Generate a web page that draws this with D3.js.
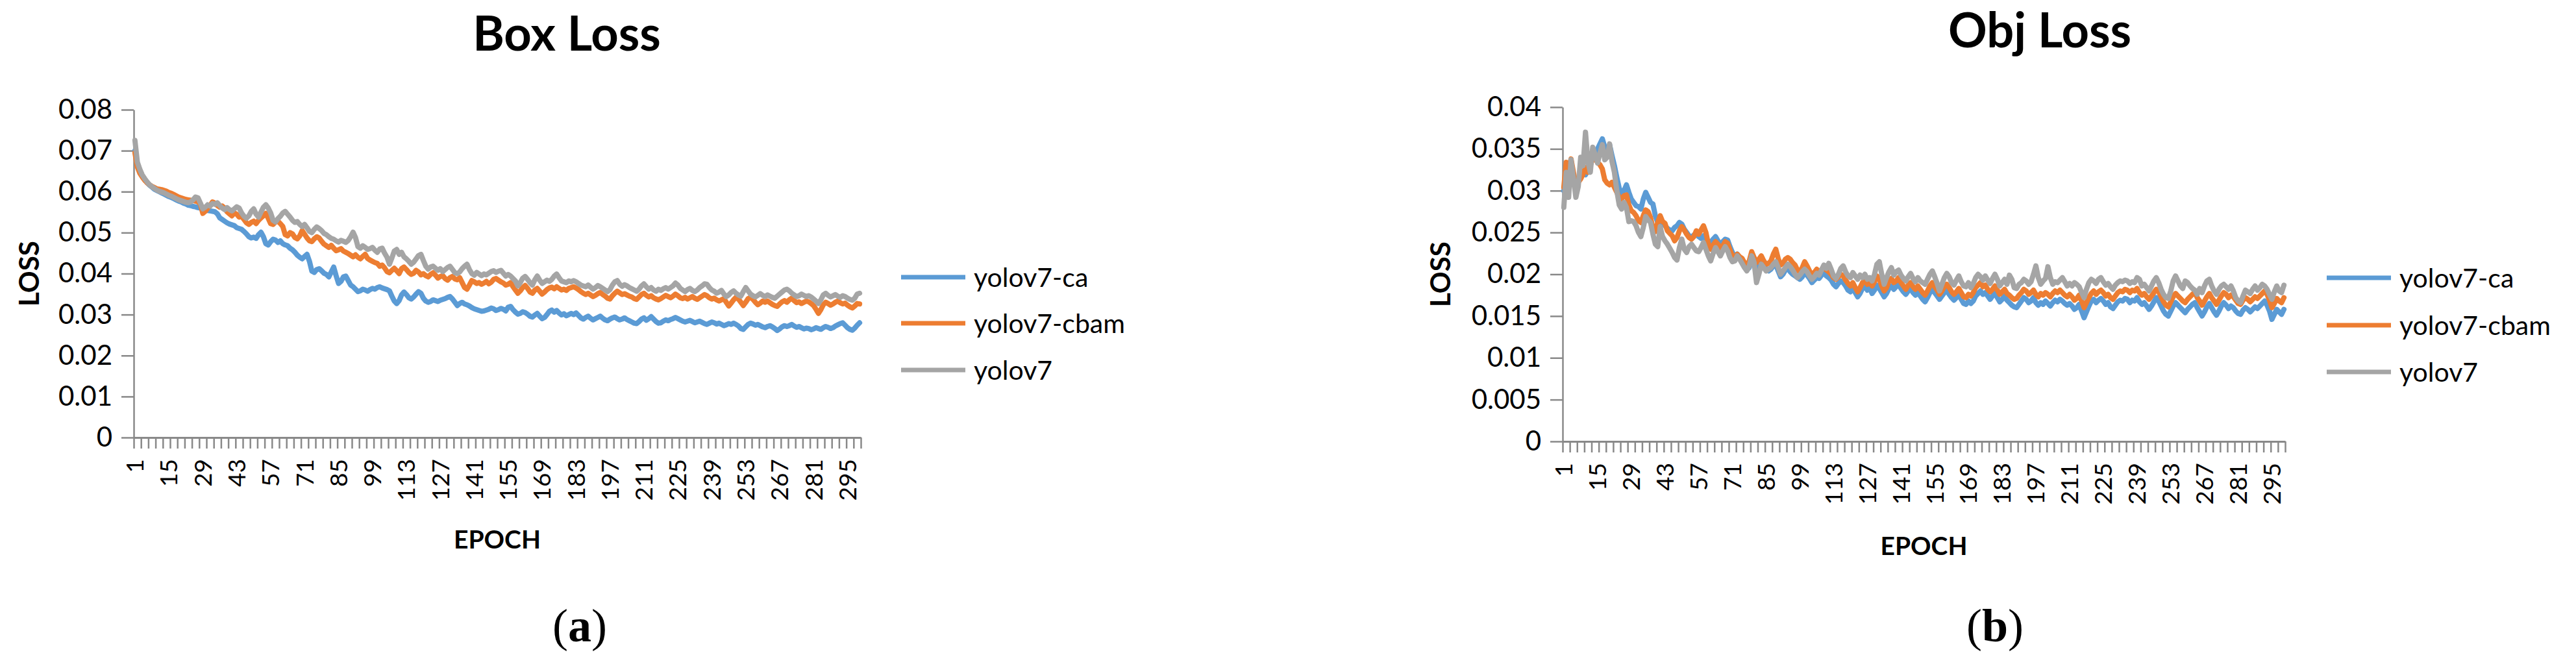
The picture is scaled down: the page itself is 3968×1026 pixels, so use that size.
<!DOCTYPE html>
<html>
<head>
<meta charset="utf-8">
<script src="https://cdn.jsdelivr.net/npm/d3@7"></script>
<style>
body { margin: 0; background: #fff; }
</style>
</head>
<body>
<script>
// loss per epoch, stored in units of 1e-4
const boxCa = [
700,668,650,638,630,622,616,611,606,603,
600,597,594,591,588,586,583,580,577,575,
572,570,567,566,564,563,561,560,558,556,
554,553,552,551,546,536,532,528,524,521,
519,517,512,510,508,503,497,490,487,489,
486,495,501,490,473,470,478,484,482,476,
480,473,470,468,462,458,452,445,440,436,
442,447,430,406,403,410,412,407,401,398,
392,404,416,395,376,381,392,394,383,372,
368,362,356,358,362,360,357,361,364,362,
366,368,365,363,361,358,345,333,327,334,
348,355,349,341,338,343,350,356,352,340,
333,330,332,336,334,332,335,337,339,342,
344,338,330,322,327,330,326,324,321,317,
314,312,310,308,309,311,313,316,314,310,
312,315,313,309,318,320,312,306,301,303,
307,305,301,296,294,299,303,296,290,293,
300,308,311,306,310,304,299,302,297,300,
303,300,304,298,292,289,293,296,291,287,
290,293,296,291,287,285,289,292,294,290,
287,289,292,288,285,282,279,278,283,289,
292,286,290,295,289,283,279,280,284,287,
285,288,290,293,290,287,284,282,284,286,
283,280,282,284,281,278,276,279,282,280,
277,279,276,273,275,278,276,279,276,272,
266,264,270,276,279,277,274,276,273,270,
268,271,273,270,266,261,265,270,273,271,
273,276,272,269,271,268,265,267,266,263,
265,268,266,264,268,271,269,266,268,272,
275,278,280,274,268,264,262,267,274,280];

const boxCbam = [
695,660,645,636,628,622,617,613,610,607,
606,605,603,601,598,596,593,590,587,585,
583,581,580,579,578,577,575,570,547,552,
560,566,575,572,566,562,565,560,551,546,
541,548,545,538,540,532,524,520,525,528,
522,530,536,541,547,535,522,520,526,528,
522,515,495,492,500,497,488,485,492,505,
496,487,480,478,485,490,487,479,472,468,
464,469,462,456,458,461,455,452,449,445,
441,446,440,436,442,447,437,433,430,427,
425,418,421,414,405,402,408,413,407,400,
412,416,410,403,398,401,408,404,397,400,
395,392,398,402,396,389,393,395,388,384,
390,393,387,385,390,378,366,362,372,383,
380,376,378,374,377,381,375,379,386,388,
384,380,377,372,374,378,368,360,352,358,
366,371,364,355,352,360,364,357,350,355,
361,365,367,363,368,364,360,362,359,364,
366,368,365,361,356,352,349,352,348,344,
347,351,354,349,345,340,338,346,352,357,
353,349,351,348,345,343,339,337,343,349,
352,347,343,346,341,338,336,339,343,347,
344,341,345,350,346,341,339,342,338,341,
344,340,337,341,345,349,346,341,338,340,
336,333,336,339,330,321,328,336,342,338,
330,322,330,339,342,337,330,324,328,333,
330,333,329,325,322,320,326,331,334,330,
336,340,334,329,331,327,330,333,331,327,
322,313,303,312,324,330,327,323,326,330,
333,329,326,328,323,319,316,321,327,326];

const boxV7 = [
725,672,655,641,632,624,617,612,608,604,
601,599,597,594,591,589,586,583,580,578,
576,574,573,575,580,587,585,572,558,562,
568,565,571,569,573,566,560,556,561,556,
553,558,563,560,548,540,535,541,552,558,
545,538,550,562,568,560,548,530,526,534,
540,548,552,545,538,530,525,527,520,515,
520,512,503,500,508,514,510,505,498,495,
490,486,484,480,477,481,479,476,481,490,
501,488,466,462,468,464,459,461,464,457,
452,460,462,450,440,423,438,455,459,447,
452,441,436,430,423,428,436,444,447,432,
418,411,416,418,413,408,412,405,410,415,
418,410,402,400,404,412,418,423,410,400,
396,403,399,395,399,397,401,405,407,403,
406,408,401,394,398,394,388,382,370,378,
389,393,386,378,372,385,394,384,376,380,
384,381,386,394,399,390,382,380,378,382,
380,383,380,376,372,370,368,372,367,362,
366,371,368,364,360,356,361,372,380,383,
374,369,373,370,366,363,360,357,362,370,
375,368,362,366,360,357,362,359,363,366,
362,366,370,377,372,364,360,356,361,364,
359,356,360,366,370,375,374,366,360,357,
352,355,359,350,344,348,354,358,352,348,
345,356,366,358,350,346,343,347,351,347,
344,348,345,342,340,345,350,355,360,362,
358,352,348,344,346,350,347,344,346,343,
338,333,327,336,348,352,347,343,346,349,
345,342,346,344,340,337,335,340,350,352];

const objCa = [
300,316,310,318,309,307,312,318,322,319,
325,333,340,345,350,356,362,352,348,355,
342,330,316,303,296,300,307,298,290,286,
282,281,278,290,298,292,286,284,270,262,
264,261,258,255,253,252,256,258,262,260,
254,250,246,244,247,249,245,243,246,240,
236,238,242,245,240,236,239,242,241,233,
226,221,224,220,216,211,205,208,218,214,
206,210,213,209,207,204,206,210,212,204,
197,200,205,207,203,200,198,196,194,197,
202,199,195,190,193,196,195,199,202,198,
196,193,188,185,189,192,190,186,181,179,
184,178,173,177,183,186,181,184,177,181,
187,183,178,173,177,183,186,182,185,188,
183,179,176,180,183,178,175,178,174,170,
167,172,178,182,178,174,170,174,178,181,
176,172,169,172,176,170,165,164,168,165,
168,174,177,180,176,178,174,170,174,178,
172,167,170,174,169,166,163,161,160,164,
168,172,170,166,168,172,166,163,166,164,
168,165,162,166,169,167,170,168,165,163,
165,162,158,160,164,156,148,155,162,168,
170,166,169,171,168,164,166,161,159,163,
167,169,168,171,170,166,169,168,172,167,
164,166,162,158,162,167,172,168,162,156,
152,150,156,162,166,163,160,157,154,158,
161,164,166,160,155,150,155,161,165,160,
155,151,156,162,166,163,159,162,160,156,
153,152,157,160,158,155,158,161,159,162,
165,168,163,156,146,152,158,155,152,158];

const objCbam = [
304,334,326,338,322,307,310,314,320,328,
322,330,338,340,334,331,326,313,309,307,
310,304,298,292,290,294,295,283,276,274,
270,264,262,270,277,275,268,255,251,262,
270,263,261,252,249,246,240,244,252,257,
253,248,244,242,245,252,248,253,258,250,
236,230,235,239,236,231,234,239,237,229,
222,220,224,221,219,214,210,216,227,220,
214,218,222,216,212,213,216,224,230,219,
211,213,218,220,218,214,211,205,203,208,
215,210,204,199,202,206,203,205,210,205,
203,200,196,194,197,200,198,193,189,186,
190,184,179,184,190,193,188,190,186,191,
198,194,186,180,184,192,195,190,192,196,
190,186,182,187,190,185,182,186,182,178,
175,180,186,190,185,181,176,180,185,188,
184,179,176,179,183,178,173,172,176,174,
178,184,187,190,185,187,182,179,182,186,
181,176,179,182,177,175,172,170,171,175,
178,182,180,176,178,181,176,173,177,175,
178,176,173,177,180,178,181,178,175,173,
176,173,169,171,175,168,160,166,172,177,
180,176,179,181,178,174,176,172,170,174,
178,180,179,182,181,178,181,180,183,178,
175,177,173,170,174,178,182,179,173,167,
163,161,167,173,177,174,171,168,166,170,
173,176,178,172,168,163,168,173,177,172,
168,164,169,174,178,176,172,175,173,169,
165,164,169,172,170,167,170,173,171,174,
177,180,176,169,160,165,171,168,166,172];

const objV7 = [
280,322,292,337,315,292,305,340,330,370,
335,322,352,343,333,345,355,337,340,356,
335,322,300,283,278,286,280,263,264,263,
258,250,245,256,269,265,262,248,236,233,
257,245,240,236,231,226,220,217,232,242,
230,226,233,236,232,228,227,232,238,230,
222,216,225,232,227,222,228,233,228,220,
215,216,222,218,213,208,204,210,222,214,
190,200,212,208,204,206,208,212,215,208,
200,204,208,212,209,205,200,196,199,203,
206,203,198,194,197,201,199,205,211,207,
213,206,198,195,200,207,210,203,198,196,
202,198,194,199,196,200,194,196,192,200,
212,215,200,188,196,203,208,199,203,205,
199,195,192,197,201,195,191,196,192,190,
188,194,200,204,197,189,180,188,196,201,
197,190,187,193,198,191,186,185,190,184,
189,196,200,197,193,198,193,189,195,200,
194,186,190,194,188,199,194,184,183,188,
190,194,192,188,191,200,210,196,188,192,
195,209,196,188,191,190,193,196,191,186,
189,186,190,188,185,178,172,182,190,194,
192,189,194,196,191,187,189,185,182,187,
190,192,191,193,192,189,191,190,196,194,
186,188,184,180,186,192,196,190,182,176,
172,171,180,192,198,192,186,183,192,190,
186,183,181,176,183,178,186,192,194,186,
180,176,182,186,188,185,182,186,180,172,
168,166,174,181,179,177,182,186,181,184,
188,186,182,176,170,179,186,180,178,187];

const epochs = d3.range(1, 301);
const epochLabels = [1, 15, 29, 43, 57, 71, 85, 99, 113, 127, 141, 155, 169, 183, 197, 211, 225, 239, 253, 267, 281, 295];
const boxTicks = [0, 0.01, 0.02, 0.03, 0.04, 0.05, 0.06, 0.07, 0.08];
const objTicks = [0, 0.005, 0.01, 0.015, 0.02, 0.025, 0.03, 0.035, 0.04];
const seriesNames = ["yolov7-ca", "yolov7-cbam", "yolov7"];
const seriesColors = ["#5b9bd5", "#ed7d31", "#a5a5a5"];

const axisColor = "#898989";
const sansFont = "Lato, 'Open Sans', sans-serif";

let svg = d3.select("body").append("svg")
    .attr("width", 3968)
    .attr("height", 1026)
    .style("display", "block")
    .style("background", "#fff");

function drawChart(c) {
    let g = svg.append("g");

    let y = d3.scaleLinear()
        .domain([0, d3.max(c.ticks)])
        .range([c.bottom, c.top]);

    let xp = d3.scalePoint()
        .domain(epochs)
        .range([c.left, c.right])
        .padding(0.5);

    let xb = d3.scaleLinear()
        .domain([0, epochs.length])
        .range([c.left, c.right]);

    // y axis
    let yAxis = g.append("g")
        .attr("transform", "translate(" + c.left + ",0)")
        .call(d3.axisLeft(y)
            .tickValues(c.ticks)
            .tickSize(19)
            .tickSizeOuter(0)
            .tickPadding(14)
            .tickFormat(d => String(d)));

    yAxis.select(".domain").attr("stroke", axisColor).attr("stroke-width", 2.5);
    yAxis.selectAll(".tick line").attr("stroke", axisColor).attr("stroke-width", 2.5);
    yAxis.selectAll(".tick text")
        .attr("fill", "#000")
        .style("font-family", sansFont)
        .style("font-size", "42px");

    // x axis: tick marks every 3 epochs
    let xAxis = g.append("g")
        .attr("transform", "translate(0," + c.bottom + ")")
        .call(d3.axisBottom(xb)
            .tickValues(d3.range(0, epochs.length + 1, 3))
            .tickSize(17)
            .tickSizeOuter(0)
            .tickFormat(""));

    xAxis.select(".domain").attr("stroke", axisColor).attr("stroke-width", 3);
    xAxis.selectAll(".tick line").attr("stroke", axisColor).attr("stroke-width", 2.5);

    g.selectAll(".xlabel")
        .data(epochLabels)
        .enter()
        .append("text")
        .attr("class", "xlabel")
        .attr("transform", d => "translate(" + xp(d) + "," + (c.bottom + 33) + ") rotate(-90)")
        .attr("dy", "0.36em")
        .attr("text-anchor", "end")
        .style("font-family", sansFont)
        .style("font-size", "37px")
        .text(d => d);

    // series
    let line = d3.line()
        .x((d, i) => xp(epochs[i]))
        .y(d => y(d / 10000));

    c.series.forEach(function(s, k) {
        g.append("path")
            .attr("d", line(s))
            .attr("fill", "none")
            .attr("stroke", seriesColors[k])
            .attr("stroke-width", 8)
            .attr("stroke-linejoin", "round")
            .attr("stroke-linecap", "round");
    });

    // legend
    seriesNames.forEach(function(name, k) {
        g.append("line")
            .attr("x1", c.legendX)
            .attr("x2", c.legendX + 99)
            .attr("y1", c.legendY[k])
            .attr("y2", c.legendY[k])
            .attr("stroke", seriesColors[k])
            .attr("stroke-width", 7);

        g.append("text")
            .attr("x", c.legendX + 112)
            .attr("y", c.legendY[k])
            .attr("dy", "0.36em")
            .style("font-family", sansFont)
            .style("font-size", "41px")
            .text(name);
    });

    // titles
    g.append("text")
        .attr("x", c.titleX)
        .attr("y", c.titleY)
        .attr("text-anchor", "middle")
        .style("font-family", sansFont)
        .style("font-weight", "bold")
        .style("font-size", "74px")
        .text(c.title);

    g.append("text")
        .attr("transform", "translate(" + c.lossX + "," + (c.top + c.bottom) / 2 + ") rotate(-90)")
        .attr("dy", "0.36em")
        .attr("text-anchor", "middle")
        .style("font-family", sansFont)
        .style("font-weight", "bold")
        .style("font-size", "42px")
        .text("LOSS");

    g.append("text")
        .attr("x", (c.left + c.right) / 2)
        .attr("y", c.epochY)
        .attr("text-anchor", "middle")
        .style("font-family", sansFont)
        .style("font-weight", "bold")
        .style("font-size", "39px")
        .text("EPOCH");

    let cap = g.append("text")
        .attr("x", c.captionX)
        .attr("y", 988)
        .attr("text-anchor", "middle")
        .style("font-family", "'Liberation Serif', serif")
        .style("font-size", "72px");
    cap.append("tspan").text("(");
    cap.append("tspan").style("font-weight", "bold").text(c.caption);
    cap.append("tspan").text(")");
}

drawChart({
    title: "Box Loss",
    series: [boxCa, boxCbam, boxV7],
    ticks: boxTicks,
    left: 206, right: 1326, top: 169, bottom: 674,
    titleX: 873, titleY: 78,
    lossX: 45, epochY: 845,
    legendX: 1388, legendY: [427, 498, 570],
    captionX: 893, caption: "a"
});

drawChart({
    title: "Obj Loss",
    series: [objCa, objCbam, objV7],
    ticks: objTicks,
    left: 2407, right: 3520, top: 165, bottom: 680,
    titleX: 3142, titleY: 73,
    lossX: 2219, epochY: 855,
    legendX: 3584, legendY: [428, 501, 573],
    captionX: 3073, caption: "b"
});
</script>
</body>
</html>
